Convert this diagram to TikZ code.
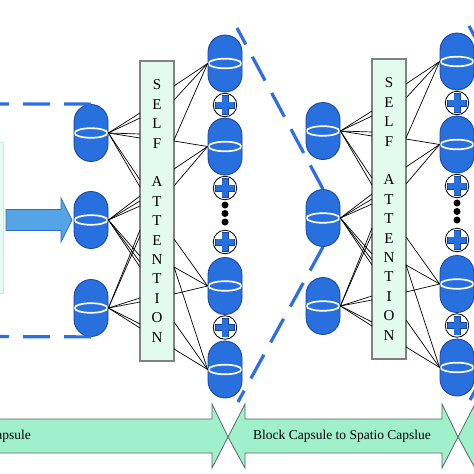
\documentclass[tikz,border=0pt]{standalone}
\usepackage{fontspec}
\setmainfont{Liberation Serif}
\definecolor{capblue}{RGB}{40,112,222}
\definecolor{capedge}{RGB}{25,65,150}
\definecolor{dashblue}{RGB}{45,110,225}
\definecolor{boxfill}{RGB}{226,250,240}
\definecolor{boxedge}{RGB}{128,128,128}
\definecolor{banfill}{RGB}{160,240,204}
\definecolor{banedge}{RGB}{90,105,100}
\definecolor{arrfill}{RGB}{85,165,230}
\definecolor{arredge}{RGB}{50,110,190}
\definecolor{leftfill}{RGB}{228,252,242}
\definecolor{leftedge}{RGB}{190,240,215}
\tikzset{
 capsule/.style={rectangle, rounded corners=17pt, minimum width=34pt, minimum height=57pt, inner sep=0pt,
   fill=capblue, draw=capedge, line width=0.8pt,
   path picture={\draw[white, line width=1.7pt] (path picture bounding box.center) ellipse (16.5pt and 4.8pt);}},
 attbox/.style={rectangle, minimum width=34pt, minimum height=300pt, inner sep=0pt, fill=boxfill,
   draw=boxedge, line width=1.5pt, align=center, font=\fontsize{15}{19.4}\selectfont},
 plusc/.style={circle, minimum size=23.5pt, inner sep=0pt, fill=white, draw=black, line width=0.8pt},
 pluso/.style={draw=capedge, line width=7pt},
 plusi/.style={draw=capblue, line width=5.2pt},
 dotn/.style={circle, minimum size=7pt, inner sep=0pt, fill=black},
 conn/.style={draw=black, line width=0.7pt},
 dashline/.style={draw=dashblue, line width=3.2pt, dash pattern=on 27pt off 14pt},
 banner/.style={fill=banfill, draw=banedge, line width=0.8pt},
 bantext/.style={font=\fontsize{13.5}{16}\selectfont, inner sep=0pt},
}
\newcommand\plussign[1]{%
  \draw[pluso] (#1) ++(-9.8,0) -- ++(19.6,0) (#1) ++(0,-9.8) -- ++(0,19.6);
  \draw[plusi] (#1) ++(-9,0) -- ++(18,0) (#1) ++(0,-9) -- ++(0,18);}
\newcommand\attsection[1]{%
  \node[capsule] (#1l1) at (91,133) {};
  \node[capsule] (#1l2) at (91,220) {};
  \node[capsule] (#1l3) at (91,308) {};
  \node[attbox] (#1b) at (157,211) {S\\E\\L\\F\\\mbox{}\\A\\T\\T\\E\\N\\T\\I\\O\\N};
  \node[capsule] (#1c1) at (225,63.5) {};
  \node[capsule] (#1c2) at (225,146.5) {};
  \node[capsule] (#1c3) at (225,286) {};
  \node[capsule] (#1c4) at (225,369.5) {};
  \node[plusc] (#1p1) at (225,105) {};
  \node[plusc] (#1p2) at (225,188) {};
  \node[plusc] (#1p3) at (225,242) {};
  \node[plusc] (#1p4) at (225,327.5) {};
  \plussign{#1p1}\plussign{#1p2}\plussign{#1p3}\plussign{#1p4}
  \node[dotn] (#1d1) at (225,205) {};
  \node[dotn] (#1d2) at (225,213.5) {};
  \node[dotn] (#1d3) at (225,222) {};
  \foreach \yy [count=\i] in {113,118,134,138,180,187}
    {\coordinate (#1wa\i) at (140,\yy); \draw[conn] (#1l1.east) -- (#1wa\i);}
  \foreach \yy [count=\i] in {196,201,206,256,262,267}
    {\coordinate (#1wb\i) at (140,\yy); \draw[conn] (#1l2.east) -- (#1wb\i);}
  \foreach \yy [count=\i] in {230,236,298,302,324,328}
    {\coordinate (#1wc\i) at (140,\yy); \draw[conn] (#1l3.east) -- (#1wc\i);}
  \foreach \yy [count=\i] in {86,100,140}
    {\coordinate (#1ea\i) at (174,\yy); \draw[conn] (#1ea\i) -- (#1c1.west);}
  \foreach \yy [count=\i] in {141,169,186}
    {\coordinate (#1eb\i) at (174,\yy); \draw[conn] (#1eb\i) -- (#1c2.west);}
  \foreach \yy [count=\i] in {239,267,294}
    {\coordinate (#1ec\i) at (174,\yy); \draw[conn] (#1ec\i) -- (#1c3.west);}
  \foreach \yy [count=\i] in {267,322,349}
    {\coordinate (#1ed\i) at (174,\yy); \draw[conn] (#1ed\i) -- (#1c4.west);}
}
\begin{document}
\begin{tikzpicture}[x=1pt,y=-1pt]
\useasboundingbox (0,0) rectangle (474,474);
\fill[white] (0,0) rectangle (474,474);
% left partial box and arrow
\draw[fill=leftfill, draw=leftedge, line width=0.8pt] (-40,142) rectangle (3,293);
\draw[fill=arrfill, draw=arredge, line width=0.8pt] (6,209.5) -- (61,209.5) -- (61,198) -- (72,220) -- (61,242) -- (61,230.5) -- (6,230.5) -- cycle;
% sections
\attsection{s1}
\begin{scope}[shift={(232,-2)}]
\attsection{s2}
\end{scope}
% dashed outlines
\coordinate (dl1) at (-20,104);
\coordinate (dl2) at (-20,336.5);
\draw[dashline] (s1l1.north) -- (dl1);
\draw[dashline] (s1l3.south) -- (dl2);
\coordinate (dd1) at (237,28);
\coordinate (dd2) at (238,402);
\draw[dashline] (s2l2.north) -- (dd1);
\draw[dashline] (s2l2.south) -- (dd2);
\coordinate (dd3) at (469,26);
\coordinate (dd3e) at (555,186);
\coordinate (dd4) at (470,400);
\coordinate (dd4e) at (555,243);
\draw[dashline] (dd3e) -- (dd3);
\draw[dashline] (dd4e) -- (dd4);
% banner
\draw[banner] (-20,419) -- (212,419) -- (212,404) -- (228,437) -- (212,468) -- (212,453) -- (-20,453) -- cycle;
\draw[banner] (245,404) -- (245,419) -- (442,419) -- (442,404) -- (458,437) -- (442,468) -- (442,453) -- (245,453) -- (245,468) -- (228,437) -- cycle;
\draw[banner] (475,419) -- (475,404) -- (458,437) -- (475,468) -- (475,453) -- (500,453) -- (500,419) -- cycle;
\node[bantext, anchor=east] (t1) at (31,436) {Capsule};
\node[bantext] (t2) at (342,436) {Block Capsule to Spatio Capslue};
\end{tikzpicture}
\end{document}
